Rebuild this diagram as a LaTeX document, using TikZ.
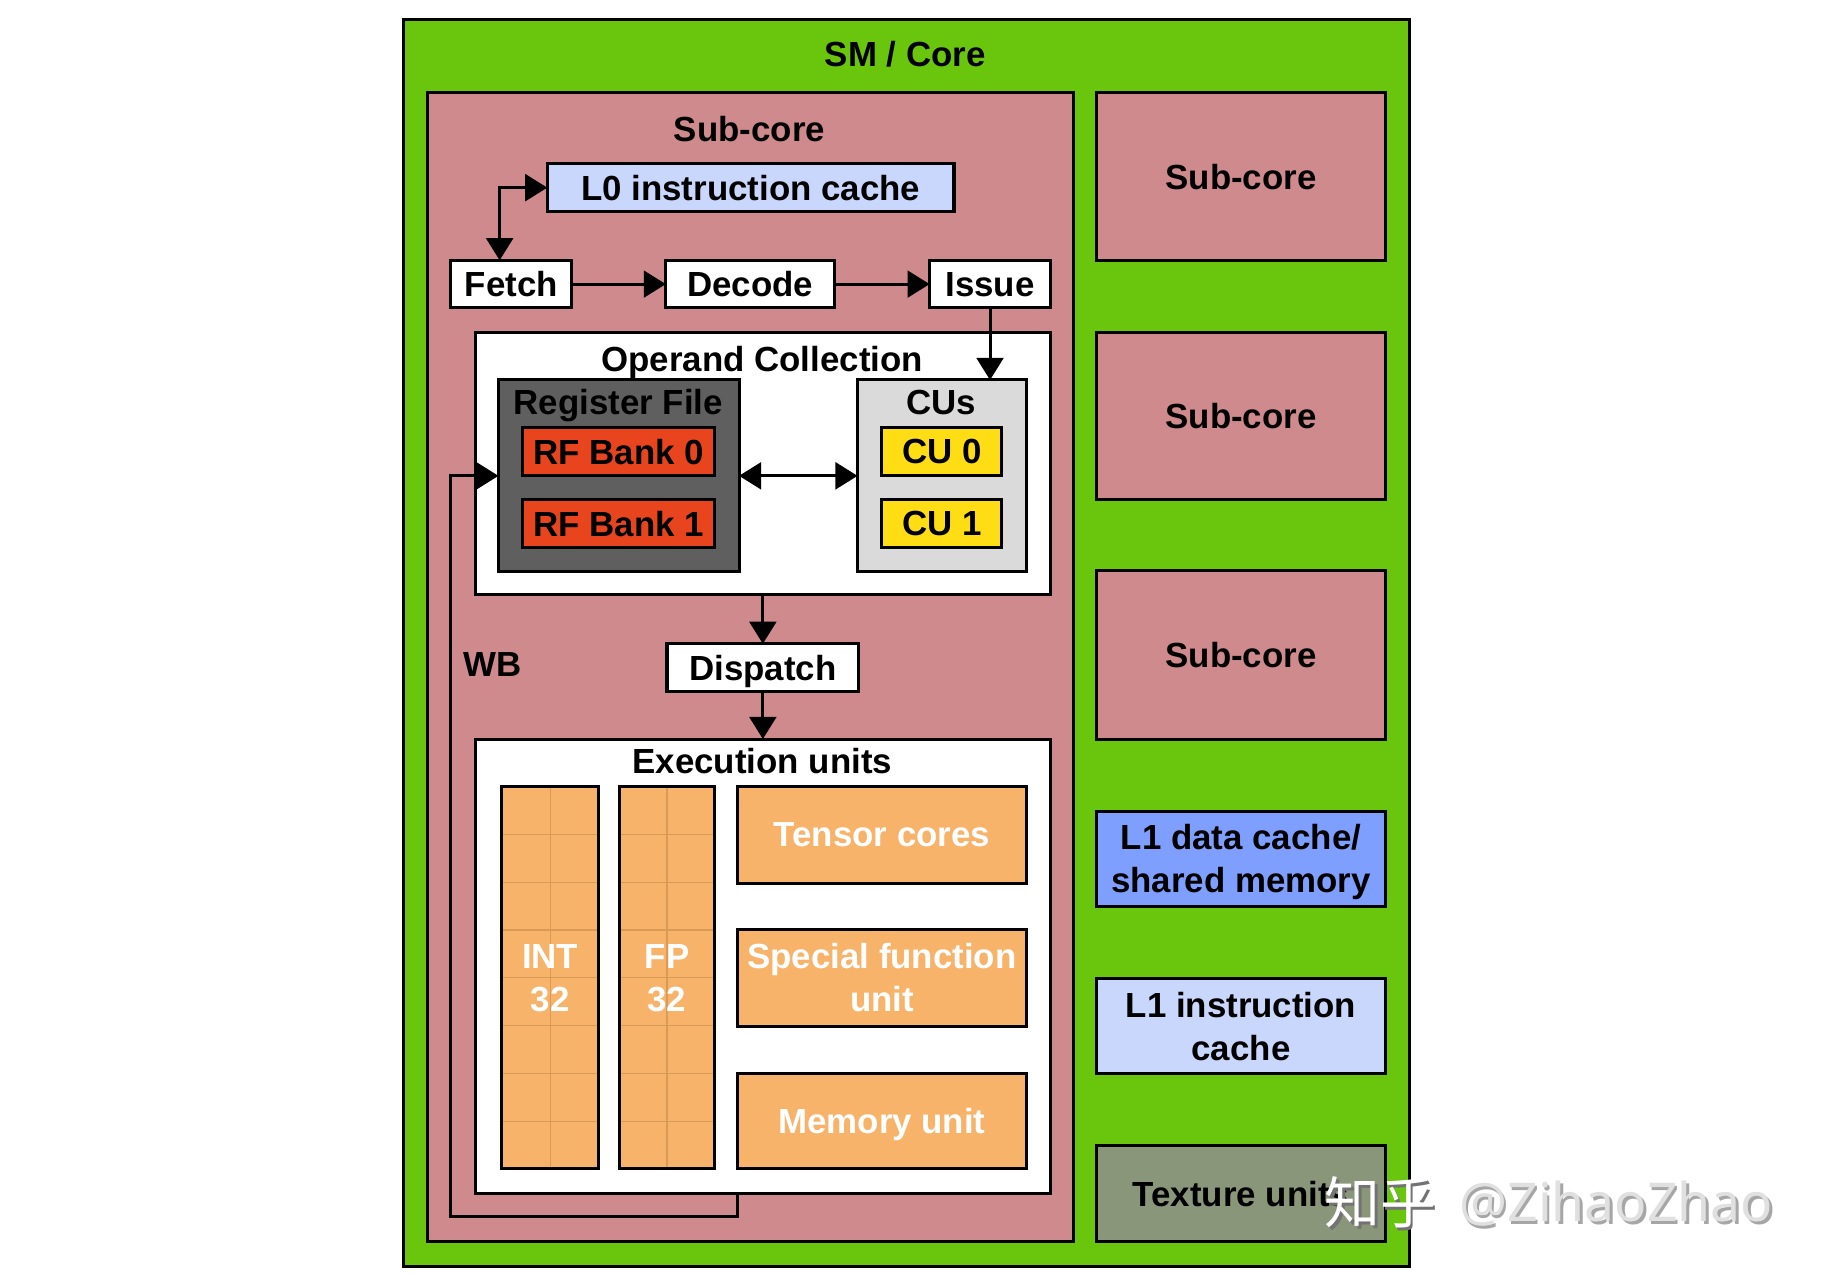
\documentclass[tikz,border=0pt]{standalone}
\usepackage{fontspec}
\setmainfont{Liberation Sans}
\newfontfamily\cjkwm{Noto Sans CJK SC}
\newfontfamily\latwm{Noto Sans}
\usetikzlibrary{arrows.meta,calc}
\definecolor{cgreen}{HTML}{6AC60C}
\definecolor{cpink}{HTML}{CE8A8C}
\definecolor{cl0}{HTML}{C9D7FC}
\definecolor{cdark}{HTML}{5F5F5F}
\definecolor{cred}{HTML}{E8451F}
\definecolor{clight}{HTML}{DADADA}
\definecolor{cyell}{HTML}{FFDD15}
\definecolor{corange}{HTML}{F8B36B}
\definecolor{cgrid}{HTML}{D89A55}
\definecolor{cblue}{HTML}{7F9FFE}
\definecolor{ctex}{HTML}{8A9679}
\newcommand{\bx}[7]{\node[block,#6,minimum width={(#4-#2)*1pt},minimum height={(#5-#3)*1pt}] (#1) at ({(#2+#4)/2},{(#3+#5)/2}) {#7};}
\tikzset{
  block/.style={draw=black,line width=2.6pt,rectangle,inner sep=0pt,outer sep=0pt,align=center,text depth=0pt,font=\fontsize{30}{37}\selectfont\bfseries},
  label/.style={inner sep=0pt,align=center,text depth=0pt,font=\fontsize{30}{37}\selectfont\bfseries},
  whitelabel/.style={label,text=white},
  flow/.style={draw=black,line width=2.6pt,-{Triangle[length=19pt,width=23pt]}},
  both/.style={draw=black,line width=2.6pt,{Triangle[length=19pt,width=23pt]}-{Triangle[length=19pt,width=23pt]}},
  gridline/.style={draw=cgrid,line width=1pt},
}
\begin{document}
\begin{tikzpicture}[x=1pt,y=-1pt]
\useasboundingbox (0,0) rectangle (1568,1099.8);
\bx{sm}{347}{17}{1213}{1090}{fill=cgreen}{}
\node[label] (smt) at (779,46) {SM / Core};
\bx{sub}{368}{80}{924}{1068}{fill=cpink}{}
\node[label] (subt) at (645,111) {Sub-core};
\bx{l0}{471}{141}{821}{182}{fill=cl0}{L0 instruction cache}
\bx{fetch}{388}{224}{492}{265}{fill=white}{Fetch}
\bx{decode}{573}{224}{718}{265}{fill=white}{Decode}
\bx{issue}{800}{224}{904}{265}{fill=white}{Issue}
\bx{opc}{409}{286}{904}{512}{fill=white}{}
\node[label] (opct) at (656,309) {Operand Collection};
\bx{rf}{429}{327}{636}{492}{fill=cdark}{}
\node[label] (rft) at (532,346) {Register File};
\bx{rfa}{450}{368}{615}{409}{fill=cred}{RF Bank 0}
\bx{rfb}{450}{430}{615}{471}{fill=cred}{RF Bank 1}
\bx{cus}{738}{327}{883}{492}{fill=clight}{}
\node[label] (cust) at (810,346) {CUs};
\bx{cua}{759}{368}{862}{409}{fill=cyell}{CU 0}
\bx{cub}{759}{430}{862}{471}{fill=cyell}{CU 1}
\node[label] (wb) at (424,572) {WB};
\bx{disp}{574}{554}{739}{595}{fill=white}{Dispatch}
\bx{exec}{409}{636}{904}{1027}{fill=white}{}
\node[label] (exect) at (656,655) {Execution units};
\bx{int}{432}{677}{515}{1006}{fill=corange}{}
\bx{fp}{533}{677}{615}{1006}{fill=corange}{}
\foreach \b in {int,fp}{
  \draw[gridline] ($(\b.north)+(0,1.3)$) -- ($(\b.south)+(0,-1.3)$);
  \foreach \i in {1,...,7}{
    \draw[gridline] ($(\b.north west)!\i/8!(\b.south west)+(1.3,0)$) -- ($(\b.north east)!\i/8!(\b.south east)+(-1.3,0)$);
  }
}
\node[whitelabel] (intt) at (int.center) {INT\\32};
\node[whitelabel] (fpt) at (fp.center) {FP\\32};
\bx{tensor}{635}{677}{883}{760}{fill=corange,text=white}{Tensor cores}
\bx{special}{635}{800}{883}{883}{fill=corange,text=white}{Special function\\unit}
\bx{memory}{635}{924}{883}{1006}{fill=corange,text=white}{Memory unit}
\bx{suba}{944}{80}{1192}{224}{fill=cpink}{Sub-core}
\bx{subb}{944}{286}{1192}{430}{fill=cpink}{Sub-core}
\bx{subc}{944}{491}{1192}{636}{fill=cpink}{Sub-core}
\bx{ldata}{944}{698}{1192}{780}{fill=cblue}{L1 data cache/\\shared memory}
\bx{linst}{944}{842}{1192}{924}{fill=cl0}{L1 instruction\\cache}
\bx{tex}{944}{986}{1192}{1068}{fill=ctex}{Texture units}
% connectors
\draw[both] ([xshift=-10pt]fetch.north) |- (l0.west);
\draw[flow] (fetch) -- (decode);
\draw[flow] (decode) -- (issue);
\draw[flow] (issue.south) -- (issue.south |- cus.north);
\draw[both] (rf.east) -- (cus.west);
\draw[flow] (opc.south) -- (disp.north);
\draw[flow] (disp.south) -- (exec.north);
\draw[flow] (memory.west |- exec.south) -- ++(0,20) -| (fetch.west |- rf.west) -- (rf.west);
% watermark
\node[inner sep=0pt,font=\cjkwm\fontsize{48}{48}\selectfont,text=black!55] (wmas) at (1190,1037) {知乎};
\node[inner sep=0pt,font=\cjkwm\fontsize{48}{48}\selectfont,text=white] (wma) at (1188,1035) {知乎};
\node[inner sep=0pt,font=\latwm\fontsize{46}{46}\selectfont,text=black!35] (wmbs) at (1393,1038) {@ZihaoZhao};
\node[inner sep=0pt,font=\latwm\fontsize{46}{46}\selectfont,text=black!12] (wmb) at (1391,1036) {@ZihaoZhao};
\end{tikzpicture}
\end{document}
